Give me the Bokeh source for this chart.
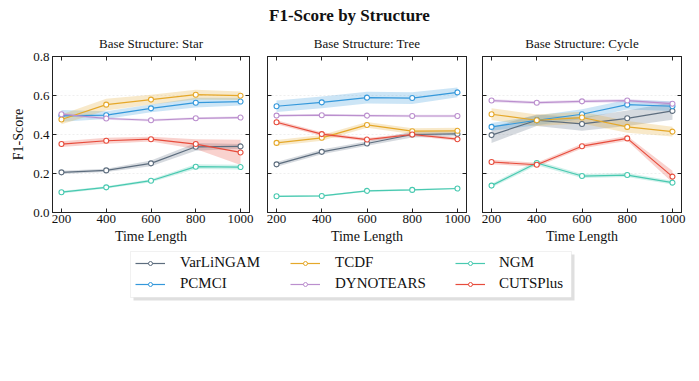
from bokeh.plotting import figure
from bokeh.models import (ColumnDataSource, LinearAxis, Legend, LegendItem, Div,
                          FixedTicker, Range1d, BoxAnnotation, CustomJSTickFormatter)
from bokeh.layouts import column, row
from bokeh.embed import file_html
from bokeh.resources import INLINE

# ---------------- data ----------------
time_lengths = [200, 400, 600, 800, 1000]
methods = ["VarLiNGAM", "PCMCI", "TCDF", "DYNOTEARS", "NGM", "CUTSPlus"]
colors = ["#5D6D7E", "#3498DB", "#E5A82A", "#BB8FCE", "#48C9B0", "#E74C3C"]
structures = ["Star", "Tree", "Cycle"]
y_ticks = [0.0, 0.2, 0.4, 0.6, 0.8]

star_mean = {
    "VarLiNGAM": [0.206, 0.216, 0.252, 0.337, 0.339],
    "PCMCI":     [0.496, 0.499, 0.534, 0.563, 0.569],
    "TCDF":      [0.477, 0.553, 0.579, 0.604, 0.599],
    "DYNOTEARS": [0.504, 0.482, 0.473, 0.483, 0.487],
    "NGM":       [0.104, 0.129, 0.163, 0.235, 0.233],
    "CUTSPlus":  [0.351, 0.368, 0.376, 0.351, 0.308],
}
star_err = {
    "VarLiNGAM": [0.008, 0.008, 0.015, 0.020, 0.012],
    "PCMCI":     [0.030, 0.020, 0.020, 0.025, 0.020],
    "TCDF":      [0.025, 0.030, 0.025, 0.025, 0.022],
    "DYNOTEARS": [0.008, 0.006, 0.006, 0.006, 0.006],
    "NGM":       [0.006, 0.006, 0.008, 0.012, 0.012],
    "CUTSPlus":  [0.015, 0.015, 0.012, 0.025, 0.065],
}
tree_mean = {
    "VarLiNGAM": [0.247, 0.311, 0.354, 0.400, 0.403],
    "PCMCI":     [0.545, 0.565, 0.589, 0.587, 0.616],
    "TCDF":      [0.357, 0.383, 0.449, 0.417, 0.419],
    "DYNOTEARS": [0.497, 0.499, 0.497, 0.495, 0.495],
    "NGM":       [0.083, 0.085, 0.111, 0.116, 0.123],
    "CUTSPlus":  [0.463, 0.402, 0.374, 0.400, 0.376],
}
tree_err = {
    "VarLiNGAM": [0.012, 0.012, 0.012, 0.015, 0.012],
    "PCMCI":     [0.030, 0.030, 0.030, 0.030, 0.025],
    "TCDF":      [0.015, 0.015, 0.015, 0.015, 0.015],
    "DYNOTEARS": [0.006, 0.006, 0.006, 0.006, 0.006],
    "NGM":       [0.004, 0.004, 0.004, 0.004, 0.004],
    "CUTSPlus":  [0.010, 0.010, 0.008, 0.008, 0.008],
}
cycle_mean = {
    "VarLiNGAM": [0.397, 0.473, 0.454, 0.483, 0.521],
    "PCMCI":     [0.439, 0.473, 0.504, 0.553, 0.545],
    "TCDF":      [0.504, 0.473, 0.487, 0.439, 0.415],
    "DYNOTEARS": [0.574, 0.563, 0.570, 0.574, 0.558],
    "NGM":       [0.138, 0.254, 0.187, 0.192, 0.153],
    "CUTSPlus":  [0.259, 0.245, 0.340, 0.380, 0.184],
}
cycle_err = {
    "VarLiNGAM": [0.040, 0.030, 0.035, 0.040, 0.045],
    "PCMCI":     [0.020, 0.025, 0.025, 0.025, 0.025],
    "TCDF":      [0.030, 0.030, 0.030, 0.030, 0.025],
    "DYNOTEARS": [0.008, 0.008, 0.008, 0.008, 0.010],
    "NGM":       [0.010, 0.012, 0.010, 0.010, 0.010],
    "CUTSPlus":  [0.012, 0.010, 0.012, 0.012, 0.030],
}
means = [star_mean, tree_mean, cycle_mean]
errs = [star_err, tree_err, cycle_err]

FONT = "Liberation Serif"
INK = "#111111"


def style_axis(ax, show_labels, standoff=0):
    ax.major_tick_in = 4
    ax.major_tick_out = 0
    ax.minor_tick_in = 0
    ax.minor_tick_out = 0
    ax.axis_line_color = "#222222"
    ax.major_tick_line_color = "#222222"
    ax.major_label_text_font = FONT
    ax.major_label_text_color = INK
    ax.axis_label_text_font = FONT
    ax.axis_label_text_font_style = "normal"
    ax.axis_label_text_font_size = "14px"
    ax.axis_label_text_color = INK
    if show_labels:
        ax.major_label_text_font_size = "13px"
        ax.major_label_standoff = 3
    else:
        ax.major_label_text_font_size = "1px"
        ax.major_label_standoff = standoff
        ax.formatter = CustomJSTickFormatter(code="return '';")


xt = FixedTicker(ticks=time_lengths)
yt = FixedTicker(ticks=y_ticks)

frame_w = [197, 199, 199]
borders_l = [52, 9, 8]
borders_r = [9, 8, 18]
figs = []
for i, s in enumerate(structures):
    p = figure(frame_width=frame_w[i], frame_height=156,
               output_backend="svg", toolbar_location=None,
               x_range=Range1d(160, 1040), y_range=Range1d(0, 0.8),
               min_border_left=borders_l[i], min_border_right=borders_r[i],
               min_border_top=25, min_border_bottom=36,
               title="Base Structure: " + s)
    p.title.align = "center"
    p.title.vertical_align = "top"
    p.title.text_font = FONT
    p.title.text_font_style = "normal"
    p.title.text_font_size = "13px"
    p.title.text_color = INK
    p.title.standoff = 8
    p.outline_line_color = "#222222"
    p.xgrid.visible = False
    p.ygrid.grid_line_color = "#e4e4e4"
    p.ygrid.grid_line_dash = "2 2"
    p.ygrid.grid_line_width = 0.6
    p.xaxis.ticker = xt
    p.yaxis.ticker = yt
    p.xaxis.axis_label = "Time Length"
    style_axis(p.xaxis[0], True)
    p.xaxis.major_label_standoff = 2
    p.xaxis.axis_label_standoff = 3
    style_axis(p.yaxis[0], i == 0)
    if i == 0:
        p.yaxis.axis_label = "F1-Score"
        p.yaxis.axis_label_standoff = 4
        p.yaxis.formatter = CustomJSTickFormatter(code="return tick.toFixed(1);")
    ra = LinearAxis(ticker=yt)
    style_axis(ra, False)
    p.add_layout(ra, "right")
    ta = LinearAxis(ticker=xt)
    style_axis(ta, False, standoff=0)
    p.add_layout(ta, "above")
    for m, c in zip(methods, colors):
        mu = means[i][m]
        er = errs[i][m]
        src = ColumnDataSource(dict(x=time_lengths,
                                    lo=[a - b for a, b in zip(mu, er)],
                                    hi=[a + b for a, b in zip(mu, er)]))
        p.varea(x="x", y1="lo", y2="hi", source=src, fill_color=c, fill_alpha=0.25)
    for m, c in zip(methods, colors):
        src = ColumnDataSource(dict(x=time_lengths, y=means[i][m]))
        p.line("x", "y", source=src, line_color=c, line_width=1.2)
        p.scatter("x", "y", source=src, size=5, marker="circle", line_color=c,
                  fill_color="white", line_width=1.1)
    figs.append(p)

# ---------------- legend strip ----------------
LH = 133
lf = figure(width=699, height=LH, output_backend="svg", toolbar_location=None,
            x_range=Range1d(0, 699), y_range=Range1d(LH, 0),
            x_axis_type=None, y_axis_type=None, min_border=0)
lf.grid.visible = False
lf.outline_line_color = None
lf.extra_y_ranges = {"hidden": Range1d(10, 11)}

# legend frame (with a soft drop shadow)
lf.add_layout(BoxAnnotation(left=133, right=574, top=6, bottom=52,
                            fill_color="#b0b0b0", fill_alpha=0.4, line_color=None))
lf.add_layout(BoxAnnotation(left=130, right=571, top=3, bottom=49,
                            fill_color="white", fill_alpha=1.0,
                            line_color="#d0d0d0", line_width=1))

items = []
for m, c in zip(methods, colors):
    src = ColumnDataSource(dict(x=time_lengths, y=star_mean[m]))
    r1 = lf.line("x", "y", source=src, line_color=c, line_width=1.2, y_range_name="hidden")
    r2 = lf.scatter("x", "y", source=src, size=4, marker="circle", line_color=c,
                    fill_color="white", line_width=1.0, y_range_name="hidden")
    items.append(LegendItem(label=m, renderers=[r1, r2]))

col_x = [135, 290, 455]
col_standoff = [15, 15, 14]
for k in range(3):
    leg = Legend(items=items[2 * k:2 * k + 2], location=(col_x[k], LH - 44),
                 orientation="vertical",
                 label_text_font=FONT, label_text_font_size="15px", label_text_color=INK,
                 glyph_width=30, glyph_height=10, label_height=17,
                 spacing=4, padding=0, margin=0, label_standoff=col_standoff[k],
                 border_line_color=None, background_fill_alpha=0.0)
    lf.add_layout(leg)

title = Div(text="F1-Score by Structure", width=699, height=31, margin=0,
            styles={"text-align": "center", "font-family": FONT, "font-weight": "bold",
                    "font-size": "17px", "color": INK, "line-height": "32px",
                    "width": "699px", "overflow": "visible"})

layout = column(title, row(*figs, spacing=0), lf, spacing=0)
open("out.html", "w").write(file_html(layout, INLINE))
